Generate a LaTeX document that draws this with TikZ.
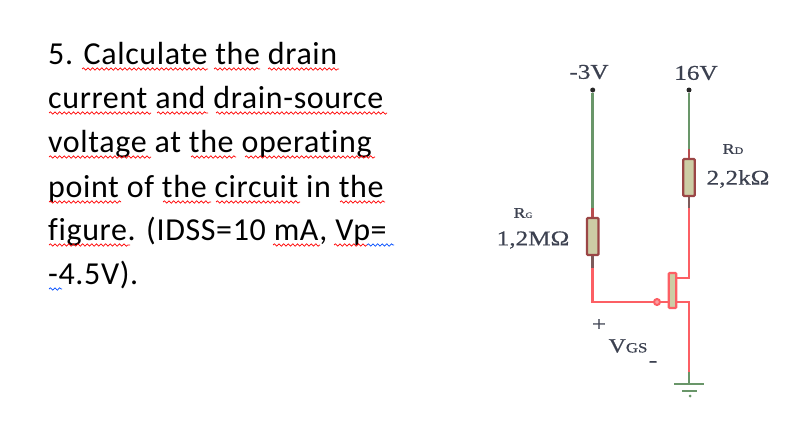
\documentclass[tikz,border=0pt]{standalone}
\usepackage{fontspec}
\setmainfont[Ligatures=NoCommon,LetterSpace=2]{Carlito}
\newfontfamily\circfont[FakeBold=0.6]{Liberation Serif}
\usetikzlibrary{decorations.pathmorphing}
\definecolor{wgreen}{RGB}{105,150,105}
\definecolor{wred}{RGB}{252,95,100}
\definecolor{wdark}{RGB}{125,90,90}
\definecolor{rbody}{RGB}{205,205,165}
\definecolor{rline}{RGB}{155,70,70}
\definecolor{ctext}{RGB}{60,65,80}
\tikzset{
  qline/.style={anchor=base west,inner sep=0pt,font=\fontsize{32}{32}\selectfont,text=black},
  squig/.style={draw=#1,line width=0.7pt,decorate,decoration={snake,amplitude=1.2pt,segment length=4.6pt}},
  greenw/.style={draw=wgreen,line width=2.8pt},
  redw/.style={draw=wred,line width=2.6pt},
  darkw/.style={draw=wdark,line width=2.6pt},
  pinkw/.style={draw=rline!70!wred,line width=2.6pt},
  resistor/.style={draw=rline,fill=rbody,line width=2.2pt,rounded corners=1pt,minimum width=11.5pt,inner sep=0pt},
  clabel/.style={inner sep=0pt,text=ctext,font=\circfont,xscale=1.2},
  term/.style={circle,fill=black!85,inner sep=0pt,minimum size=5pt},
}
\begin{document}
\begin{tikzpicture}[x=1pt,y=-1pt]
\useasboundingbox (0,0) rectangle (805,428);
% question text
\node[qline] (l1) at (48,64) {5. Calculate the drain};
\node[qline] (l2) at (48,108) {current and drain-source};
\node[qline] (l3) at (48,152) {voltage at the operating};
\node[qline] (l4) at (48,197) {point of the circuit in the};
\node[qline] (l5) at (48,240) {figure. (IDSS=10 mA, Vp=};
\node[qline] (l6) at (48,284) {-4.5V).};
% spell-check underlines
\foreach \a/\b/\y in {82/208/69,214/260/69,268/339/69,
  49/151/113,157/208/113,216/387/113,
  49/151/157,191/236/157,245/375/157,
  49/121/202,163/211/202,216/300/202,340/385/202,
  49/130/245,273/320/245,334/367/245}
  \path[squig=red] (\a,\y) -- (\b,\y);
\path[squig=blue!70!cyan] (367,245) -- (394,245);
\path[squig=blue!70!cyan] (49,289) -- (62,289);
% circuit points
\node[term] (tg) at (592.7,90) {};
\node[term] (td) at (689,90) {};
\coordinate (gA) at (592.7,208);
\node[resistor,minimum height=37pt] (rg) at (592.7,236.5) {};
\coordinate (gB) at (592.7,268);
\coordinate (gC) at (592.7,302);
\coordinate (dA) at (689,149);
\node[resistor,minimum height=37pt] (rd) at (689,177.5) {};
\coordinate (dB) at (689,208);
\coordinate (dC) at (689,278);
\node[draw=wred,fill=rbody,line width=2.2pt,rounded corners=1pt,minimum width=7.5pt,minimum height=35pt,inner sep=0pt] (jf) at (672.5,290.5) {};
\node[circle,draw=wred,fill=wred!60,line width=2pt,inner sep=0pt,minimum size=6pt] (gt) at (657,302) {};
\coordinate (sA) at (689,302);
\coordinate (gnd) at (689,384);
\coordinate (sB) at (689,372);
% wires
\draw[greenw] (tg) -- (gA);
\draw[pinkw] (gA) -- (rg.north);
\draw[darkw] (rg.south) -- (gB);
\draw[redw] (gB) -- (gC) -- (gt.west);
\draw[redw] (gt.east) -- (jf.west |- gt);
\draw[greenw] (td) -- (dA);
\draw[pinkw] (dA) -- (rd.north);
\draw[darkw] (rd.south) -- (dB);
\draw[redw] (dB) -- (dC) -- (jf.east |- dC);
\draw[redw] (jf.east |- sA) -- (sA) -- (sB);
\draw[greenw] (sB) -- (gnd);
% ground
\coordinate (g1l) at (674,384); \coordinate (g1r) at (704,384);
\coordinate (g2l) at (682,391); \coordinate (g2r) at (697,391);
\draw[greenw] (g1l) -- (g1r);
\draw[greenw] (g2l) -- (g2r);
\node[circle,fill=wgreen,inner sep=0pt,minimum size=3pt] (g3) at (690,396) {};
% labels
\node[clabel,font=\circfont\fontsize{21}{21}\selectfont] (lg) at (589,72) {-3V};
\node[clabel,font=\circfont\fontsize{21}{21}\selectfont] (ld) at (696,73) {16V};
\node[clabel,font=\circfont\fontsize{15}{15}\selectfont] (lrd) at (733,149) {R\fontsize{10}{10}\selectfont D};
\node[clabel,font=\circfont\fontsize{21}{21}\selectfont] (vrd) at (738,179) {2,2kΩ};
\node[clabel,font=\circfont\fontsize{15}{15}\selectfont] (lrg) at (523,213) {R\fontsize{8}{8}\selectfont G};
\node[clabel,font=\circfont\fontsize{21}{21}\selectfont] (vrg) at (533,240) {1,2MΩ};
\node[clabel,font=\circfont\fontsize{21}{21}\selectfont] (vp) at (599,325) {+};
\node[clabel,font=\circfont\fontsize{20}{20}\selectfont] (vgs) at (628,346) {V\fontsize{14}{14}\selectfont GS};
\node[clabel,font=\circfont\fontsize{21}{21}\selectfont] (vm) at (653,364) {-};
\end{tikzpicture}
\end{document}
